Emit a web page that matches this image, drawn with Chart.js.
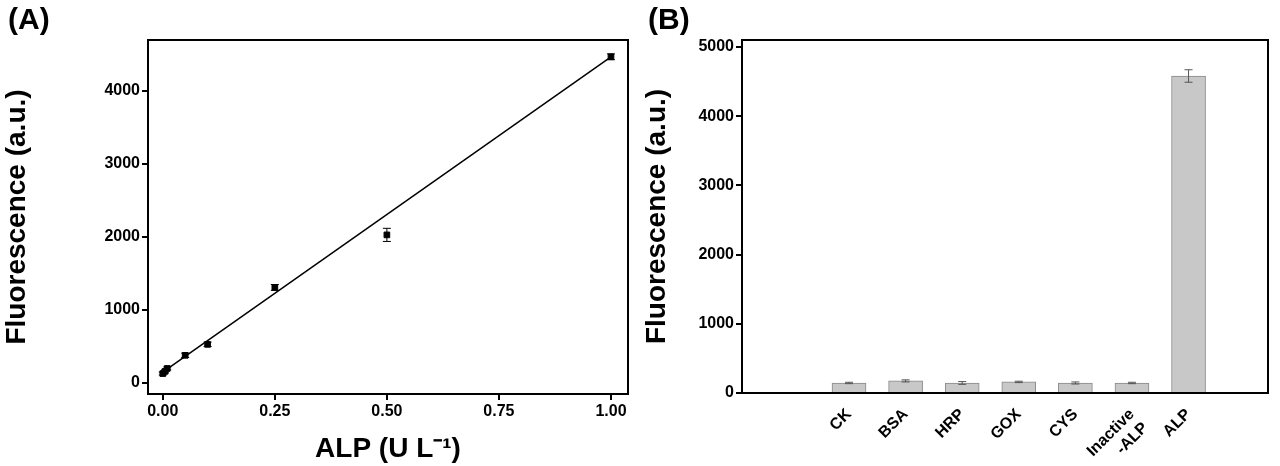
<!DOCTYPE html>
<html><head><meta charset="utf-8">
<script src="https://cdn.jsdelivr.net/npm/chart.js@4"></script>
<style>
body{margin:0;background:#fff;width:1280px;height:466px;position:relative;overflow:hidden;font-family:Arial,"Liberation Sans",sans-serif}
canvas{position:absolute;top:0}
.lab{position:absolute;top:2px;font-weight:bold;font-size:30px}
</style></head><body>
<canvas id="a" width="640" height="466" style="left:0"></canvas>
<canvas id="b" width="640" height="466" style="left:640px"></canvas>
<div class="lab" style="left:8px">(A)</div>
<div class="lab" style="left:648px">(B)</div>
<script>
const alpConc = [0, 0.005, 0.01, 0.05, 0.1, 0.25, 0.5, 1.0];
const alpFluo = [130, 160, 200, 380, 530, 1310, 2030, 4470];
const alpErr = [20, 20, 20, 30, 30, 40, 90, 40];
const fitLine = [{x: 0, y: 150}, {x: 1, y: 4470}];
const aXTicks = [0, 0.25, 0.5, 0.75, 1.0];
const aYTicks = [0, 1000, 2000, 3000, 4000];

const enzymes = ['CK', 'BSA', 'HRP', 'GOX', 'CYS', ['Inactive', '-ALP'], 'ALP'];
const enzFluo = [145, 175, 145, 160, 145, 145, 4580];
const enzErr = [10, 15, 20, 10, 15, 10, 90];
const bYTicks = [0, 1000, 2000, 3000, 4000, 5000];

const font = {family: 'Arial, "Liberation Sans"', weight: 'bold', size: 16};
const titleFont = {family: 'Arial, "Liberation Sans"', weight: 'bold', size: 28};

const frame = {
  id: 'frame',
  afterDatasetsDraw(c) {
    const {ctx, chartArea: a} = c;
    ctx.save();
    ctx.strokeStyle = '#000'; ctx.lineWidth = 2;
    ctx.strokeRect(a.left, a.top, a.right - a.left, a.bottom - a.top);
    c.data.datasets.forEach((ds, i) => {
      if (!ds.err) return;
      const meta = c.getDatasetMeta(i);
      ctx.strokeStyle = ds.errColor || '#000'; ctx.lineWidth = 1;
      meta.data.forEach((el, j) => {
        const v = ds.data[j], y = typeof v === 'object' ? v.y : v;
        const y1 = c.scales.y.getPixelForValue(y + ds.err[j]);
        const y2 = c.scales.y.getPixelForValue(y - ds.err[j]);
        const x = el.x;
        ctx.beginPath();
        ctx.moveTo(x, y1); ctx.lineTo(x, y2);
        ctx.moveTo(x - 4, y1); ctx.lineTo(x + 4, y1);
        ctx.moveTo(x - 4, y2); ctx.lineTo(x + 4, y2);
        ctx.stroke();
      });
    });
    ctx.restore();
  }
};

function axis(extra) {
  return Object.assign({
    grid: {drawOnChartArea: false, color: '#000', tickLength: 6, lineWidth: 2},
    border: {color: '#000', width: 2},
    ticks: {color: '#000', font: font, padding: 2, autoSkip: false, callback: v => String(v)}
  }, extra);
}

new Chart(document.getElementById('a'), {
  type: 'scatter',
  data: {datasets: [
    {data: alpConc.map((x, i) => ({x: x, y: alpFluo[i]})), err: alpErr,
     pointStyle: 'rect', pointRadius: 4, backgroundColor: '#000', borderColor: '#000'},
    {type: 'line', data: fitLine, borderColor: '#000', borderWidth: 1.5, pointRadius: 0}
  ]},
  options: {
    animation: false, responsive: false, devicePixelRatio: 1,
    layout: {padding: {top: 40, right: 12}},
    plugins: {legend: {display: false}, tooltip: {enabled: false}},
    scales: {
      x: axis({type: 'linear', min: -0.033, max: 1.038,
        afterBuildTicks: s => { s.ticks = aXTicks.map(v => ({value: v})); },
        afterFit: s => { s.height = 72; },
        ticks: {color: '#000', font: font, padding: 2, autoSkip: false, maxRotation: 0, callback: v => v.toFixed(2)},
        title: {display: true, text: 'ALP (U L⁻¹)', color: '#000', font: titleFont, padding: 0}}),
      y: axis({min: -150, max: 4700,
        afterBuildTicks: s => { s.ticks = aYTicks.map(v => ({value: v})); },
        afterFit: s => { s.width = 148; },
        title: {display: true, text: 'Fluorescence (a.u.)', color: '#000', font: titleFont, padding: 0}})
    }
  },
  plugins: [frame]
});

new Chart(document.getElementById('b'), {
  type: 'bar',
  data: {datasets: [{
    data: enzFluo.map((v, i) => ({x: i + 1, y: v})), err: enzErr, errColor: '#555',
    backgroundColor: '#c8c8c8', borderColor: '#888', borderWidth: 1,
    barThickness: 34
  }]},
  options: {
    animation: false, responsive: false, devicePixelRatio: 1,
    layout: {padding: {top: 40, right: 12}},
    plugins: {legend: {display: false}, tooltip: {enabled: false}},
    scales: {
      x: axis({type: 'linear', min: -0.227, max: 7.74,
        grid: {display: false},
        afterBuildTicks: s => { s.ticks = enzymes.map((e, i) => ({value: i + 1})); },
        afterFit: s => { s.height = 73; },
        ticks: {color: '#000', font: font, padding: 4, autoSkip: false, minRotation: 45, maxRotation: 45,
          callback: v => enzymes[v - 1]}}),
      y: axis({min: 0, max: 5100,
        afterBuildTicks: s => { s.ticks = bYTicks.map(v => ({value: v})); },
        afterFit: s => { s.width = 102; },
        title: {display: true, text: 'Fluorescence (a.u.)', color: '#000', font: titleFont, padding: 0}})
    }
  },
  plugins: [frame]
});
</script>
</body></html>
